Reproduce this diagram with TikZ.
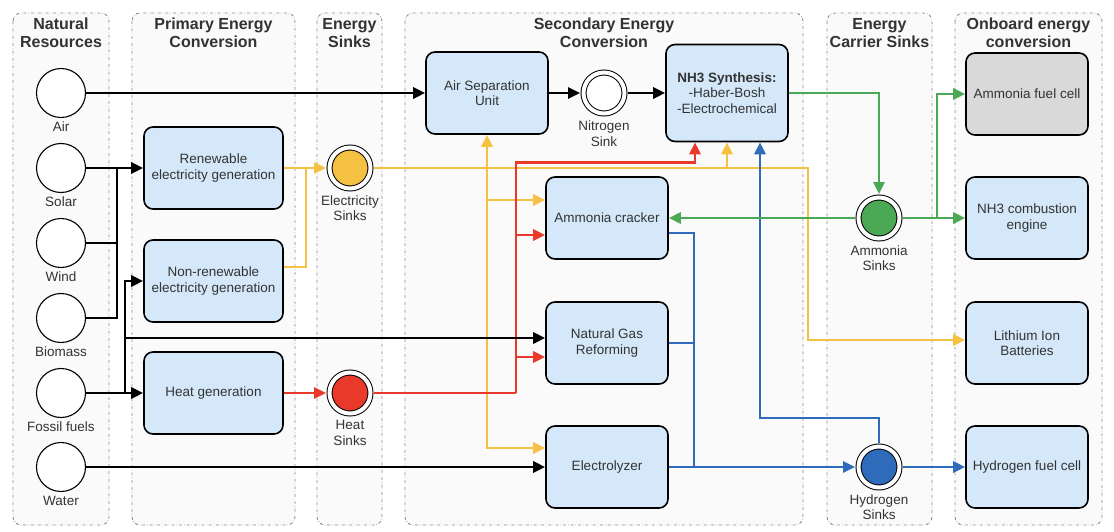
\documentclass[tikz,border=0pt]{standalone}
\usepackage{fontspec}
\setmainfont{Liberation Sans}
\usetikzlibrary{positioning,arrows.meta,calc}
\definecolor{procblue}{RGB}{212,232,250}
\definecolor{cellgray}{RGB}{217,217,217}
\definecolor{lanegray}{RGB}{250,250,250}
\definecolor{elecyellow}{RGB}{245,193,66}
\definecolor{heatred}{RGB}{232,57,43}
\definecolor{nhgreen}{RGB}{75,169,85}
\definecolor{hydblue}{RGB}{46,107,186}
\definecolor{txtgray}{RGB}{51,51,51}
\newcommand{\lblfont}{\fontsize{13.5}{15.5}\selectfont}
\newcommand{\hdrfont}{\fontsize{16}{18}\selectfont\bfseries}

\begin{document}
\begin{tikzpicture}[x=1pt,y=-1pt,
      lane/.style={draw=gray!90,dash dot,line width=0.9pt,rounded corners=8pt,fill=lanegray},
      hdr/.style={align=center,font=\hdrfont,text=txtgray},
      res/.style={circle,draw,line width=1.1pt,fill=white,minimum size=49pt,inner sep=0pt},
      restxt/.style={align=center,font=\lblfont,text=txtgray},
      proc/.style={draw,line width=1.6pt,rounded corners=9pt,fill=procblue,minimum width=122pt,
        minimum height=82pt,align=center,font=\lblfont,text=txtgray},
      sink/.style={circle,draw=black,line width=1pt,double=white,double distance=4pt,fill=#1,
        minimum size=41pt,inner sep=0pt,outer sep=3.5pt},
      link/.style={line width=2.8pt},
      flow/.style={link,-{Triangle[length=12pt,width=11pt]}},
    ]
      \useasboundingbox (0,0) rectangle (1114,532);

      % Lanes with their headers
      \foreach \xa/\xb/\nm/\txt in {13/109/natres/{Natural\\Resources},
          132/295/primary/{Primary Energy\\Conversion},
          317/382/esinks/{Energy\\Sinks},
          405/803/secondary/{Secondary Energy\\Conversion},
          827/932/csinks/{Energy\\Carrier Sinks},
          955/1102/onboard/{Onboard energy\\conversion}} {
        \draw[lane] (\xa,13) rectangle (\xb,525);
        \node[hdr] (hdr-\nm) at ({(\xa+\xb)/2},33) {\txt};
      }

      % Natural resources
      \foreach \nm/\y/\txt in {air/93/Air, solar/168/Solar, wind/243/Wind,
          biomass/318/Biomass, fossil/393/Fossil fuels, water/467/Water} {
        \node[res] (\nm) at (61,\y) {};
        \node[restxt] (\nm-lbl) at (61,\y+34) {\txt};
      }

      % Primary conversion
      \node[proc,minimum width=139pt] (renew) at (213.5,168) {Renewable\\electricity generation};
      \node[proc,minimum width=139pt] (nonrenew) at (213.5,281) {Non-renewable\\electricity generation};
      \node[proc,minimum width=139pt] (heatgen) at (213.5,393) {Heat generation};

      % Energy sinks
      \node[sink=elecyellow] (elecsink) at (350,168) {};
      \node[restxt] (elecsink-lbl) at (350,208) {Electricity\\Sinks};
      \node[sink=heatred] (heatsink) at (350,393) {};
      \node[restxt] (heatsink-lbl) at (350,433) {Heat\\Sinks};

      % Secondary conversion
      \node[proc] (asu) at (487,93) {Air Separation\\Unit};
      \node[sink=white] (n2sink) at (604,93) {};
      \node[restxt] (n2sink-lbl) at (604,133.5) {Nitrogen\\Sink};
      \node[proc,minimum height=97pt] (nh3syn) at (727,93)
        {\textbf{NH3 Synthesis:}\\-Haber-Bosh\\-Electrochemical};
      \node[proc] (cracker) at (607,218) {Ammonia cracker};
      \node[proc] (ngr) at (607,343) {Natural Gas\\Reforming};
      \node[proc] (electrolyzer) at (607,467) {Electrolyzer};

      % Energy carrier sinks
      \node[sink=nhgreen] (nh3sink) at (879,218) {};
      \node[restxt] (nh3sink-lbl) at (879,258) {Ammonia\\Sinks};
      \node[sink=hydblue] (h2sink) at (879,467) {};
      \node[restxt] (h2sink-lbl) at (879,507) {Hydrogen\\Sinks};

      % Onboard conversion
      \node[proc,fill=cellgray] (nh3fc) at (1027,94) {Ammonia fuel cell};
      \node[proc] (nh3ice) at (1027,218) {NH3 combustion\\engine};
      \node[proc] (liion) at (1027,343) {Lithium Ion\\Batteries};
      \node[proc] (h2fc) at (1027,467) {Hydrogen fuel cell};

      % Trunk points
      \coordinate (rtrunk) at (117,168);
      \coordinate (ftrunk) at (125,393);
      \coordinate (etrunk) at (306,168);
      \coordinate (ebus) at (808,168);
      \coordinate (htrunk) at (516,393);
      \coordinate (hbus) at (694,467);
      \coordinate (hret) at (760,418);
      \coordinate (gtrunk) at (937,218);

      % Yellow: electricity
      \draw[flow,elecyellow] (renew) -- (elecsink);
      \draw[link,elecyellow] ($(nonrenew.east)+(0,-14)$) -| (etrunk);
      \draw[flow,elecyellow] (elecsink) -- (ebus) |- ($(liion.west)+(0,-3)$);
      \draw[flow,elecyellow] (asu.south |- elecsink) -- (asu.south);
      \draw[flow,elecyellow] (asu.south |- elecsink) |- ($(cracker.west)+(0,-18)$);
      \draw[flow,elecyellow] (asu.south |- elecsink) |- ($(electrolyzer.west)+(0,-19)$);
      \draw[flow,elecyellow] (nh3syn.south |- elecsink) -- (nh3syn.south);

      % Red: heat
      \draw[flow,heatred] (heatgen) -- (heatsink);
      \draw[link,heatred] (heatsink) -- (htrunk);
      \draw[flow,heatred] (htrunk) |- ($(cracker.west)+(0,17)$);
      \draw[flow,heatred] (htrunk) |- ($(ngr.west)+(0,14)$);
      \draw[flow,heatred] (htrunk) |- ($(nh3syn.south)+(-32,20)$) -- ($(nh3syn.south)+(-32,0)$);

      % Black: resources
      \draw[flow] (air) -- (asu);
      \draw[flow] (asu) -- (n2sink);
      \draw[flow] (n2sink) -- (nh3syn);
      \draw[flow] (solar) -- (renew);
      \draw[link] (wind) -| (rtrunk);
      \draw[link] (biomass) -| (rtrunk);
      \draw[flow] (fossil) -- (heatgen);
      \draw[flow] (ftrunk) |- (nonrenew.west);
      \draw[flow] (ftrunk) |- ($(ngr.west)+(0,-5)$);
      \draw[flow] (water) -- (water -| electrolyzer.west);

      % Blue: hydrogen
      \draw[link,hydblue] ($(cracker.east)+(0,15)$) -| (hbus);
      \draw[link,hydblue] (ngr.east) -| (hbus);
      \draw[flow,hydblue] (electrolyzer) -- (h2sink);
      \draw[flow,hydblue] (h2sink) -- (h2fc);
      \draw[flow,hydblue] (h2sink.north) |- (hret) -- (hret |- nh3syn.south);

      % Green: ammonia
      \draw[flow,nhgreen] (nh3syn.east) -| (nh3sink.north);
      \draw[flow,nhgreen] (nh3sink) -- (cracker);
      \draw[flow,nhgreen] (nh3sink) -- (nh3ice);
      \draw[flow,nhgreen] (gtrunk) |- (nh3fc.west);
    \end{tikzpicture}
\end{document}
